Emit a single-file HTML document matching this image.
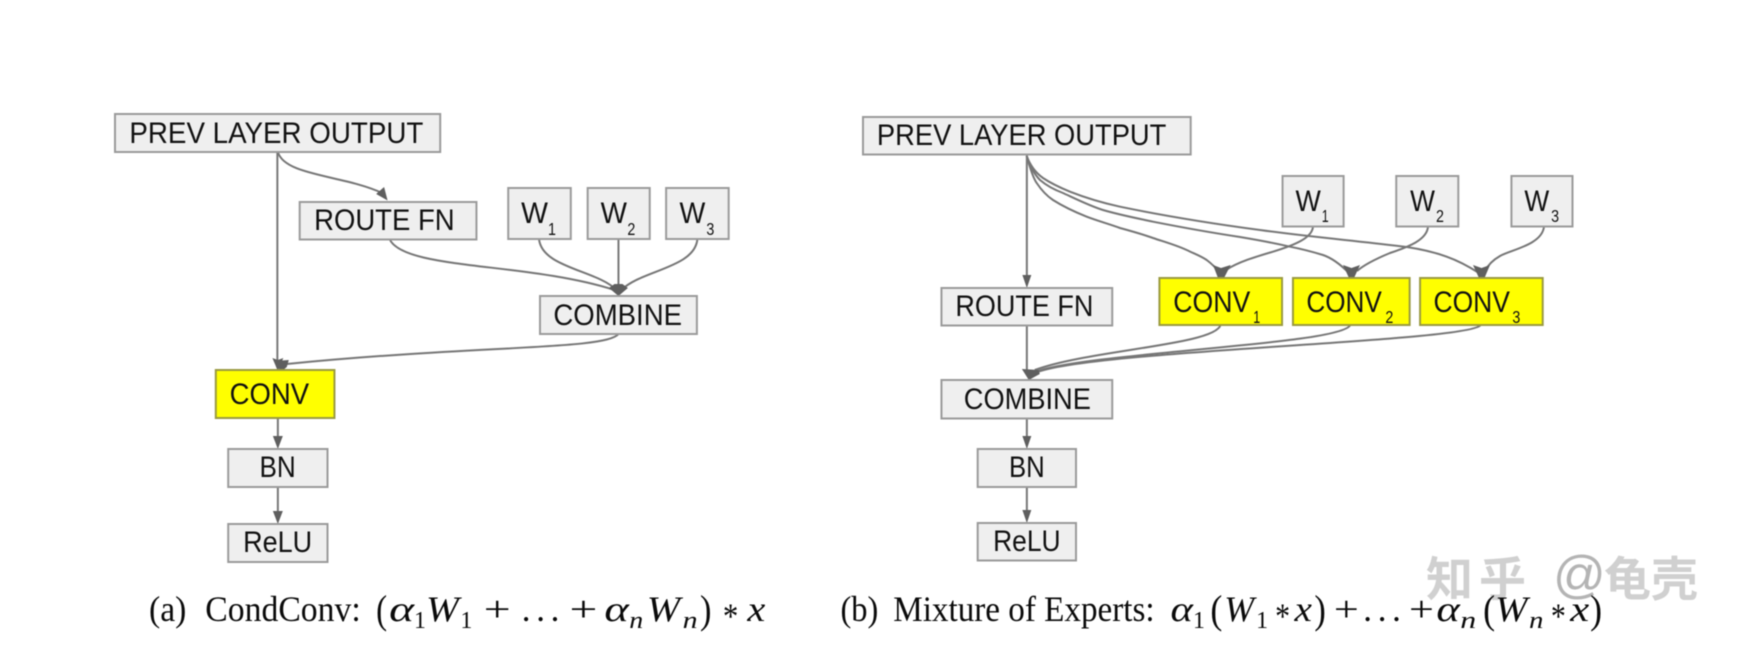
<!DOCTYPE html>
<html>
<head>
<meta charset="utf-8">
<style>
html,body{margin:0;padding:0;background:#fff;width:1740px;height:648px;overflow:hidden}
svg{display:block;filter:blur(.45px)}
.b{fill:#efefef;stroke:#9a9a9a;stroke-width:2}
.y{fill:#ffff00;stroke:#9a9a40;stroke-width:2}
.l{fill:none;stroke:#767676;stroke-width:2}
.a{fill:#5f5f5f;stroke:none}
.t{font-family:"Liberation Sans",sans-serif;font-size:29.5px;fill:#111}
.s{font-family:"Liberation Sans",sans-serif;font-size:18px;fill:#111}
.c{font-family:"Liberation Serif",serif;font-size:36px;fill:#0a0a0a}
.p{font-family:"Liberation Serif",serif;font-size:40px;fill:#0a0a0a}
.m{font-family:"Liberation Serif",serif;font-size:36px;font-style:italic;fill:#0a0a0a}
.ms{font-family:"Liberation Serif",serif;font-size:24px;fill:#0a0a0a}
.msi{font-family:"Liberation Serif",serif;font-size:24px;font-style:italic;fill:#0a0a0a}
.w{font-family:"Noto Sans CJK SC","WenQuanYi Zen Hei",sans-serif;font-size:47px;font-weight:700;fill:#d0d0d0}
</style>
</head>
<body>
<svg width="1740" height="648" viewBox="0 0 1740 648" xmlns="http://www.w3.org/2000/svg">
<rect width="1740" height="648" fill="#fff"/>

<!-- LEFT panel -->
<g transform="translate(115 0) scale(.993 1) translate(-115 0)">
<path class="l" d="M278.5 152V368"/>
<path class="l" d="M279 152C286 176 345 175 384 193"/>
<path class="l" d="M391.5 239C405 270 530 262 618 290"/>
<path class="l" d="M542 239C545 268 600 270 620 290"/>
<path class="l" d="M622 239V290"/>
<path class="l" d="M701.5 239C699 268 645 270 625 290"/>
<path class="l" d="M622 334C610 350 480 345 288 364"/>
<path class="l" d="M279 418V440"/>
<path class="l" d="M279 487V516"/>
<polygon class="a" points="389.5,200.500 378,194 386,187"/>
<polygon class="a" points="622,296 612.500,288 618,284 626,284 631.500,288"/>
<polygon class="a" points="279,371 273.500,358 279,360 284.500,358"/>
<polygon class="a" points="282,372 276,361 290,360 288,367"/>
<polygon class="a" points="279,449 274,436 284,436"/>
<polygon class="a" points="279,524 274,511 284,511"/>

<rect class="b" x="115" y="114" width="327.500" height="38"/>
<rect class="b" x="301" y="202" width="178" height="37.500"/>
<rect class="b" x="511" y="188" width="63" height="51"/>
<rect class="b" x="591" y="188" width="62.500" height="51"/>
<rect class="b" x="670" y="188" width="63" height="51"/>
<rect class="b" x="543" y="296" width="158" height="38"/>
<rect class="y" x="216.500" y="370" width="119.500" height="48"/>
<rect class="b" x="229" y="449" width="100" height="38"/>
<rect class="b" x="229" y="524" width="100" height="38"/>

<text class="t" x="129.500" y="143" textLength="296" lengthAdjust="spacingAndGlyphs">PREV LAYER OUTPUT</text>
<text class="t" x="315.500" y="230" textLength="141.500" lengthAdjust="spacingAndGlyphs">ROUTE FN</text>
<text class="t" x="524" y="223" textLength="27" lengthAdjust="spacingAndGlyphs">W</text><text class="s" x="551" y="235" textLength="8" lengthAdjust="spacingAndGlyphs">1</text>
<text class="t" x="604" y="223" textLength="26.500" lengthAdjust="spacingAndGlyphs">W</text><text class="s" x="631" y="235" textLength="8" lengthAdjust="spacingAndGlyphs">2</text>
<text class="t" x="683.500" y="223" textLength="26" lengthAdjust="spacingAndGlyphs">W</text><text class="s" x="710.500" y="235" textLength="8" lengthAdjust="spacingAndGlyphs">3</text>
<text class="t" x="556.500" y="325" textLength="129.500" lengthAdjust="spacingAndGlyphs">COMBINE</text>
<text class="t" x="230.500" y="404" textLength="80" lengthAdjust="spacingAndGlyphs">CONV</text>
<text class="t" x="260.500" y="477" textLength="36.500" lengthAdjust="spacingAndGlyphs">BN</text>
<text class="t" x="244" y="552" textLength="69.500" lengthAdjust="spacingAndGlyphs">ReLU</text>
</g>

<!-- RIGHT curves (true coordinates) -->
<path class="l" d="M1026.7 156C1030 168 1033 178 1036.7 183C1042 191 1047 196 1053 200C1064 207 1075 212 1086.7 216.7C1098 221 1109 224 1120 228C1131 231 1142 234 1153 238C1165 242 1176 245 1186.7 250C1195 254 1201 256 1206.7 260C1212 264 1216 268 1219 272"/>
<path class="l" d="M1026.7 156C1030 166 1035 175 1040 180C1047 186 1055 190 1063 193C1076 199 1090 206 1103 210C1120 215 1136 218 1153 221.7C1185 228 1220 234 1240 237C1258 240 1274 243 1290 246.7C1302 249 1313 252 1323 255C1332 258 1341 265 1349 273"/>
<path class="l" d="M1026.7 156C1030 165 1036 173 1043 178C1052 184 1061 188 1070 191.7C1086 198 1103 203 1120 206.7C1165 216 1215 224 1260 230C1310 237 1360 241 1406.7 247C1420 249 1434 252 1446.7 256.7C1456 260 1468 266 1479 273"/>
<path class="l" d="M1313 226.7C1312 238 1295 245 1273 251.7C1255 257 1238 262 1226 270"/>
<path class="l" d="M1428 226.7C1427 240 1408 247 1390 253C1378 258 1365 264 1357 271"/>
<path class="l" d="M1544 226.7C1542 245 1510 250 1500 256C1493 260 1488 265 1485 271"/>
<polygon class="a" points="1213,265 1221,268 1230.700,265 1224,278 1218,278"/>
<polygon class="a" points="1343,265 1351.500,268 1360,265 1354,278 1349,278"/>
<polygon class="a" points="1473,265 1481.500,268 1490,265 1484.500,278 1479,278"/>

<!-- RIGHT panel -->
<g transform="translate(863 0) scale(.993 1) translate(-863 0)">
<path class="l" d="M1028 155V280"/>
<path class="l" d="M1028 325V372"/>
<path class="l" d="M1223 325C1218 345 1090 350 1036 370"/>
<path class="l" d="M1353.7 325C1345 345 1090 352 1036 372"/>
<path class="l" d="M1485 325C1475 342 1090 350 1036 373"/>
<path class="l" d="M1028 419V440"/>
<path class="l" d="M1028 487V514"/>
<polygon class="a" points="1028,288 1023.500,275 1032.500,275"/>
<polygon class="a" points="1030,380 1023,369 1040,370 1041,374"/>
<polygon class="a" points="1028,449 1023.500,436 1032.500,436"/>
<polygon class="a" points="1028,523 1023.500,510 1032.500,510"/>

<rect class="b" x="863" y="117" width="330" height="37.500"/>
<rect class="b" x="1285.500" y="176" width="61.500" height="50.500"/>
<rect class="b" x="1400" y="176" width="62.500" height="50.500"/>
<rect class="b" x="1516" y="176" width="61.500" height="50.500"/>
<rect class="b" x="942" y="288" width="172" height="37.500"/>
<rect class="y" x="1161.500" y="278" width="123.500" height="47"/>
<rect class="y" x="1296" y="278" width="117.500" height="47"/>
<rect class="y" x="1424" y="278" width="123.500" height="47"/>
<rect class="b" x="942" y="380" width="172" height="38.500"/>
<rect class="b" x="978.500" y="449" width="99" height="38"/>
<rect class="b" x="978.500" y="523" width="99" height="37.500"/>

<text class="t" x="877" y="145" textLength="291.500" lengthAdjust="spacingAndGlyphs">PREV LAYER OUTPUT</text>
<text class="t" x="1298.500" y="211" textLength="25.500" lengthAdjust="spacingAndGlyphs">W</text><text class="s" x="1325" y="222" textLength="7" lengthAdjust="spacingAndGlyphs">1</text>
<text class="t" x="1414" y="211" textLength="25" lengthAdjust="spacingAndGlyphs">W</text><text class="s" x="1440" y="222" textLength="8" lengthAdjust="spacingAndGlyphs">2</text>
<text class="t" x="1529" y="211" textLength="25" lengthAdjust="spacingAndGlyphs">W</text><text class="s" x="1556" y="222" textLength="8" lengthAdjust="spacingAndGlyphs">3</text>
<text class="t" x="956" y="316" textLength="139" lengthAdjust="spacingAndGlyphs">ROUTE FN</text>
<text class="t" x="1175.500" y="312" textLength="77.500" lengthAdjust="spacingAndGlyphs">CONV</text><text class="s" x="1256" y="323" textLength="7" lengthAdjust="spacingAndGlyphs">1</text>
<text class="t" x="1309.500" y="312" textLength="76" lengthAdjust="spacingAndGlyphs">CONV</text><text class="s" x="1389" y="323" textLength="8" lengthAdjust="spacingAndGlyphs">2</text>
<text class="t" x="1437.500" y="312" textLength="77" lengthAdjust="spacingAndGlyphs">CONV</text><text class="s" x="1517" y="323" textLength="8" lengthAdjust="spacingAndGlyphs">3</text>
<text class="t" x="964.500" y="409" textLength="128" lengthAdjust="spacingAndGlyphs">COMBINE</text>
<text class="t" x="1010" y="477" textLength="36" lengthAdjust="spacingAndGlyphs">BN</text>
<text class="t" x="994" y="551" textLength="68" lengthAdjust="spacingAndGlyphs">ReLU</text>
</g>

<!-- Watermark -->
<text class="w" x="1426" y="596">知</text>
<text class="w" x="1479" y="596">乎</text>
<text x="1553" y="592" style="fill:#b4b4b4;font-family:'Liberation Sans',sans-serif;font-size:52px">@</text>
<text class="w" x="1604" y="596">龟</text>
<text class="w" x="1651" y="596">壳</text>

<!-- Caption a -->
<g transform="translate(149 0) scale(.9964 1) translate(-149 0)">
<text class="c" x="149" y="621" textLength="37.500" lengthAdjust="spacingAndGlyphs">(a)</text>
<text class="c" x="205.500" y="621" textLength="156" lengthAdjust="spacingAndGlyphs">CondConv:</text>
<text class="p" x="377" y="623" textLength="11" lengthAdjust="spacingAndGlyphs">(</text>
<text class="m" x="390" y="621" textLength="25" lengthAdjust="spacingAndGlyphs">α</text>
<text class="ms" x="415" y="628">1</text>
<text class="m" x="427" y="621" textLength="33" lengthAdjust="spacingAndGlyphs">W</text>
<text class="ms" x="461.500" y="628">1</text>
<text class="c" x="485" y="621" textLength="27" lengthAdjust="spacingAndGlyphs">+</text>
<text class="c" x="523" y="621" textLength="38" lengthAdjust="spacing">...</text>
<text class="c" x="571" y="621" textLength="28" lengthAdjust="spacingAndGlyphs">+</text>
<text class="m" x="606" y="621" textLength="24.500" lengthAdjust="spacingAndGlyphs">α</text>
<text class="msi" x="631" y="628" textLength="14" lengthAdjust="spacingAndGlyphs">n</text>
<text class="m" x="648.500" y="621" textLength="33.500" lengthAdjust="spacingAndGlyphs">W</text>
<text class="msi" x="684.500" y="628" textLength="15" lengthAdjust="spacingAndGlyphs">n</text>
<text class="p" x="702" y="623" textLength="11.500" lengthAdjust="spacingAndGlyphs">)</text>
<text class="c" x="725" y="628" textLength="15.500" lengthAdjust="spacingAndGlyphs">*</text>
<text class="m" x="749.500" y="621" textLength="18" lengthAdjust="spacingAndGlyphs">x</text>
</g>

<!-- Caption b -->
<g transform="translate(840 0) scale(.9956 1) translate(-840 0)">
<text class="c" x="840.500" y="621" textLength="38" lengthAdjust="spacingAndGlyphs">(b)</text>
<text class="c" x="893.500" y="621" textLength="262.500" lengthAdjust="spacingAndGlyphs">Mixture of Experts:</text>
<text class="m" x="1172" y="621" textLength="22.500" lengthAdjust="spacingAndGlyphs">α</text>
<text class="ms" x="1194.500" y="628">1</text>
<text class="p" x="1212" y="623" textLength="12" lengthAdjust="spacingAndGlyphs">(</text>
<text class="m" x="1226" y="621" textLength="30" lengthAdjust="spacingAndGlyphs">W</text>
<text class="ms" x="1258" y="628">1</text>
<text class="c" x="1277" y="628" textLength="15" lengthAdjust="spacingAndGlyphs">*</text>
<text class="m" x="1296.500" y="621" textLength="17.500" lengthAdjust="spacingAndGlyphs">x</text>
<text class="p" x="1316.500" y="623" textLength="11.500" lengthAdjust="spacingAndGlyphs">)</text>
<text class="c" x="1336" y="621" textLength="25" lengthAdjust="spacingAndGlyphs">+</text>
<text class="c" x="1365.500" y="621" textLength="38" lengthAdjust="spacing">...</text>
<text class="c" x="1411.500" y="621" textLength="25" lengthAdjust="spacingAndGlyphs">+</text>
<text class="m" x="1439" y="621" textLength="23.500" lengthAdjust="spacingAndGlyphs">α</text>
<text class="msi" x="1463" y="628" textLength="16" lengthAdjust="spacingAndGlyphs">n</text>
<text class="p" x="1486" y="623" textLength="12" lengthAdjust="spacingAndGlyphs">(</text>
<text class="m" x="1498" y="621" textLength="32.500" lengthAdjust="spacingAndGlyphs">W</text>
<text class="msi" x="1532" y="628" textLength="14.500" lengthAdjust="spacingAndGlyphs">n</text>
<text class="c" x="1554" y="628" textLength="15" lengthAdjust="spacingAndGlyphs">*</text>
<text class="m" x="1573.500" y="621" textLength="19" lengthAdjust="spacingAndGlyphs">x</text>
<text class="p" x="1593.500" y="623" textLength="12" lengthAdjust="spacingAndGlyphs">)</text>
</g>
</svg>
</body>
</html>
